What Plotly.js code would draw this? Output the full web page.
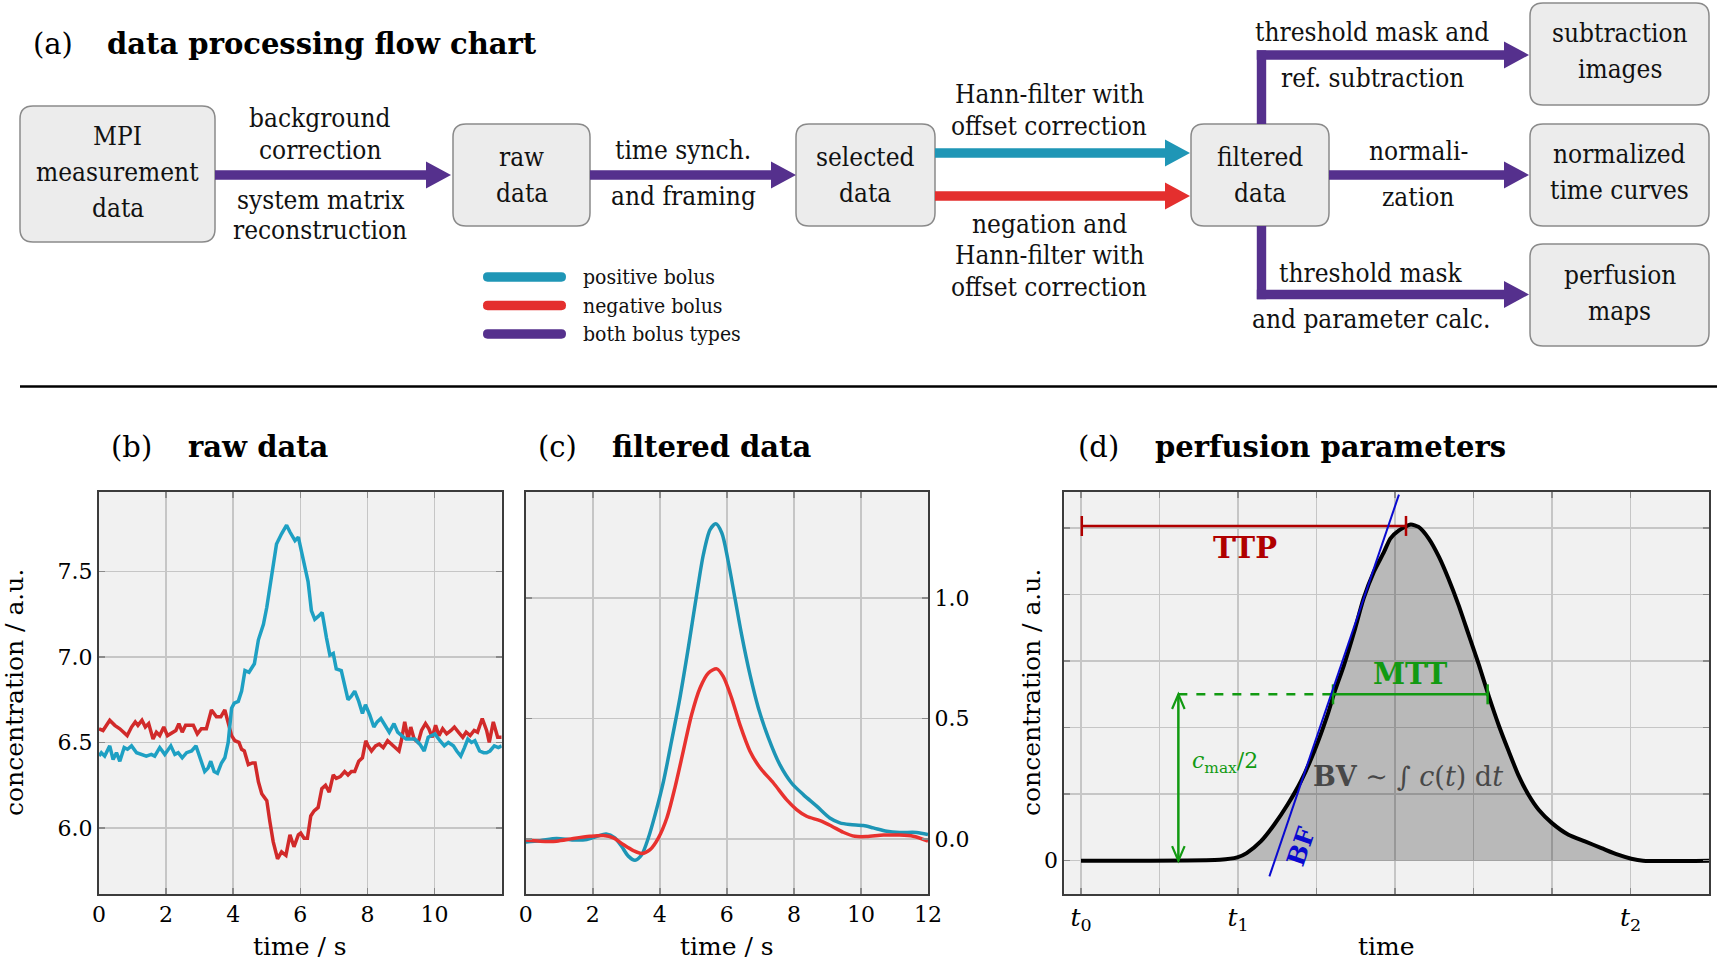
<!DOCTYPE html>
<html><head><meta charset="utf-8">
<script src="https://cdn.plot.ly/plotly-3.0.1.min.js"></script>
<style>html,body{margin:0;padding:0;background:#fff}#chart{width:1717px;height:962px}</style>
</head><body><div id="chart"></div>
<script>
const W = 1717, H = 962;

// ---------- (b) raw data ----------
const rawPosT = [0,0.07,0.17,0.32,0.42,0.52,0.62,0.75,0.85,0.97,1.12,1.26,1.41,1.56,1.66,1.81,1.96,2.14,2.26,2.36,2.48,2.61,2.76,2.89,3.00,3.15,3.25,3.33,3.43,3.53,3.65,3.75,3.85,3.95,4.03,4.15,4.25,4.35,4.47,4.63,4.75,4.90,5.00,5.15,5.29,5.44,5.59,5.69,5.84,5.94,6.13,6.23,6.33,6.43,6.55,6.65,6.78,6.88,6.98,7.07,7.22,7.32,7.42,7.52,7.62,7.74,7.85,7.94,8.07,8.19,8.29,8.40,8.54,8.65,8.79,8.90,9.02,9.15,9.29,9.41,9.56,9.69,9.81,10.01,10.16,10.29,10.41,10.56,10.66,10.78,10.89,10.99,11.10,11.20,11.34,11.46,11.55,11.65,11.78,11.90,12.0];
const rawPosC = [6.42,6.44,6.42,6.48,6.40,6.44,6.39,6.47,6.46,6.48,6.44,6.43,6.42,6.43,6.42,6.47,6.43,6.48,6.43,6.44,6.41,6.44,6.45,6.48,6.41,6.33,6.35,6.39,6.33,6.32,6.38,6.41,6.50,6.70,6.73,6.74,6.80,6.92,6.91,6.96,7.10,7.19,7.29,7.50,7.66,7.72,7.77,7.73,7.68,7.70,7.54,7.44,7.27,7.22,7.24,7.26,7.11,7.01,7.02,6.93,6.92,6.84,6.75,6.77,6.80,6.74,6.67,6.72,6.66,6.59,6.62,6.64,6.60,6.56,6.61,6.56,6.54,6.52,6.52,6.52,6.49,6.45,6.53,6.55,6.51,6.48,6.50,6.48,6.45,6.42,6.47,6.52,6.50,6.51,6.45,6.44,6.44,6.45,6.48,6.47,6.48];
const rawNegT = [0,0.12,0.32,0.47,0.62,0.72,0.84,0.97,1.08,1.16,1.28,1.38,1.48,1.61,1.71,1.81,1.93,2.04,2.18,2.29,2.38,2.48,2.58,2.71,2.81,2.93,3.05,3.20,3.35,3.50,3.63,3.75,3.85,3.95,4.05,4.17,4.25,4.33,4.45,4.57,4.65,4.75,4.85,5.00,5.09,5.19,5.32,5.44,5.57,5.69,5.81,5.94,6.01,6.11,6.21,6.31,6.41,6.53,6.64,6.75,6.86,6.98,7.07,7.19,7.32,7.42,7.52,7.62,7.74,7.85,7.95,8.02,8.12,8.24,8.35,8.47,8.60,8.72,8.82,8.94,9.01,9.11,9.21,9.29,9.39,9.51,9.61,9.73,9.83,9.93,10.03,10.13,10.24,10.36,10.49,10.59,10.71,10.84,10.94,11.06,11.18,11.28,11.42,11.55,11.63,11.75,11.88,12.0];
const rawNegC = [6.58,6.57,6.63,6.60,6.58,6.56,6.54,6.59,6.62,6.60,6.63,6.59,6.61,6.52,6.56,6.54,6.59,6.54,6.56,6.57,6.61,6.56,6.60,6.60,6.60,6.55,6.58,6.58,6.69,6.65,6.65,6.69,6.62,6.54,6.51,6.50,6.46,6.45,6.37,6.38,6.38,6.27,6.20,6.16,6.04,5.92,5.82,5.86,5.84,5.96,5.89,5.96,5.97,5.94,5.94,6.07,6.10,6.12,6.23,6.25,6.21,6.31,6.29,6.30,6.33,6.31,6.33,6.33,6.39,6.41,6.51,6.48,6.45,6.48,6.49,6.47,6.51,6.49,6.47,6.45,6.51,6.62,6.52,6.59,6.52,6.50,6.57,6.61,6.58,6.53,6.60,6.54,6.58,6.55,6.57,6.59,6.56,6.53,6.56,6.54,6.57,6.56,6.64,6.57,6.50,6.62,6.53,6.53];
const rawXTicks = [0,2,4,6,8,10];
const rawYTicks = [6.0,6.5,7.0,7.5];
const rawYText = ['6.0','6.5','7.0','7.5'];

// ---------- (c) filtered data ----------
const filtPosT = [0,0.43,0.92,1.42,1.82,2.12,2.40,2.66,2.86,3.06,3.26,3.46,3.66,3.86,4.11,4.35,4.60,4.85,5.10,5.30,5.50,5.67,5.85,6.04,6.24,6.44,6.69,6.94,7.24,7.58,7.93,8.28,8.68,9.07,9.37,9.67,10.07,10.37,10.77,11.16,11.66,12.0];
const filtPosC = [-0.011,-0.006,0.003,-0.003,-0.001,0.012,0.022,0.006,-0.029,-0.070,-0.087,-0.064,0.006,0.102,0.240,0.406,0.586,0.793,1.014,1.18,1.283,1.307,1.269,1.152,1.0,0.848,0.682,0.544,0.420,0.309,0.233,0.185,0.137,0.088,0.068,0.061,0.057,0.047,0.033,0.028,0.028,0.019];
const filtNegT = [0,0.43,0.92,1.42,1.92,2.32,2.61,2.91,3.21,3.46,3.71,3.96,4.21,4.45,4.70,4.95,5.20,5.45,5.70,5.89,6.14,6.39,6.69,6.99,7.39,7.78,8.08,8.38,8.78,9.13,9.47,9.82,10.17,10.67,11.16,11.56,12.0];
const filtNegC = [-0.003,-0.008,-0.008,0.003,0.012,0.015,0.006,-0.022,-0.047,-0.059,-0.043,0.006,0.088,0.213,0.365,0.517,0.627,0.689,0.706,0.675,0.586,0.475,0.365,0.296,0.233,0.164,0.123,0.095,0.077,0.054,0.029,0.012,0.011,0.017,0.017,0.012,-0.008];
const filtXTicks = [0,2,4,6,8,10,12];
const filtYTicks = [0,0.5,1.0];
const filtYText = ['0.0','0.5','1.0'];

// ---------- (d) perfusion parameters ----------
const perfT = [0,1.77,1.99,2.11,2.29,2.46,2.63,2.80,2.97,3.14,3.22,3.35,3.48,3.60,3.73,3.86,3.94,4.05,4.20,4.30,4.43,4.56,4.68,4.81,4.94,5.07,5.19,5.32,5.45,5.57,5.70,5.83,6.00,6.21,6.42,6.63,6.84,7.01,7.16,8.0];
const perfC = [0,0.015,0.05,0.115,0.29,0.54,0.84,1.19,1.64,2.19,2.5,2.94,3.44,3.94,4.34,4.64,4.84,4.965,5.05,5.015,4.84,4.565,4.24,3.84,3.39,2.94,2.49,2.04,1.64,1.29,0.99,0.765,0.565,0.39,0.29,0.19,0.09,0.03,0,0];
const t0 = 0.01, tPeak = 4.14, cMax = 5.03;          // TTP bar
const mttStart = 3.21, mttEnd = 5.18, cHalf = 2.5;    // MTT bar at c_max/2
const cHalfArrowT = 1.24;                              // c_max/2 arrow position
const bfT = [2.40, 4.05], bfC = [-0.235, 5.5];          // BF tangent
const perfXTicks = [0,2,7];
const perfXText = ['<i>t</i><sub>0</sub>','<i>t</i><sub>1</sub>','<i>t</i><sub>2</sub>'];
const perfXGrid = [1,3,4,5,6];
const perfYTicks = [0];
const perfYText = ['0'];
const perfYGrid = [1,2,3,4,5];

// ---------- (a) flow chart labels ----------
const boxLabels = [['MPI','measurement','data'],['raw','data'],['selected','data'],['filtered','data'],['subtraction','images'],['normalized','time curves'],['perfusion','maps']];
const edgeLabels = ['background','correction','system matrix','reconstruction','time synch.','and framing','Hann-filter with','offset correction','negation and','Hann-filter with','offset correction','threshold mask and','ref. subtraction','normali-','zation','threshold mask','and parameter calc.'];
const legendLabels = ['positive bolus','negative bolus','both bolus types'];

// ---------- styling / geometry ----------
const TEAL = '#1f96b6', RED = '#e42f2e', PURPLE = '#55308d';
const SERIF = 'DejaVu Serif, serif';
const FLOW = 'DejaVu Serif Condensed, DejaVu Serif, serif';
const px = v => v / W, py = v => 1 - v / H;

const boxGeom = [[20,106,215,242],[453,124,590,226],[796,124,935,226],[1191,124,1329,226],[1530,3,1709,105],[1530,124,1709,226],[1530,244,1709,346]];
const boxLineY = [[136,172,208],[157,193],[157,193],[157,193],[33,69],[154,190],[275,311]];
const edgePos = [[320,118],[320,150],[320,200],[320,230],[683,150],[683,196],[1049,94],[1049,126],[1049,224],[1049,255],[1049,287],[1372,32],[1372,78],[1418,151],[1418,197],[1371,273],[1371,319]];

function f(v){return v.toFixed(5);}
function rr(x0,y0,x1,y1,r){
  const X=v=>f(px(v)), Y=v=>f(py(v));
  return `M${X(x0+r)},${Y(y0)} L${X(x1-r)},${Y(y0)} Q${X(x1)},${Y(y0)} ${X(x1)},${Y(y0+r)} L${X(x1)},${Y(y1-r)} Q${X(x1)},${Y(y1)} ${X(x1-r)},${Y(y1)} L${X(x0+r)},${Y(y1)} Q${X(x0)},${Y(y1)} ${X(x0)},${Y(y1-r)} L${X(x0)},${Y(y0+r)} Q${X(x0)},${Y(y0)} ${X(x0+r)},${Y(y0)} Z`;
}
function poly(pts){return 'M' + pts.map(p=>f(px(p[0]))+','+f(py(p[1]))).join(' L') + ' Z';}
function arrow(x0,x1,y,h=4.7,L=25,HH=13.5){
  return poly([[x0,y-h],[x1-L,y-h],[x1-L,y-HH],[x1,y],[x1-L,y+HH],[x1-L,y+h],[x0,y+h]]);
}
const shapes = [];
const annotations = [];
const pshape = (path,color)=>shapes.push({type:'path',xref:'paper',yref:'paper',path:path,fillcolor:color,line:{width:0}});

// boxes
boxGeom.forEach(b=>shapes.push({type:'path',xref:'paper',yref:'paper',path:rr(b[0],b[1],b[2],b[3],13),fillcolor:'#ececec',line:{color:'#8a8a8a',width:1.5}}));
// arrows
pshape(arrow(215,451,175),PURPLE);
pshape(arrow(590,796,175),PURPLE);
pshape(arrow(935,1190,153),TEAL);
pshape(arrow(935,1190,196),RED);
pshape(arrow(1329,1529,175),PURPLE);
pshape(poly([[1256.8,50.3],[1266.2,50.3],[1266.2,124],[1256.8,124]]),PURPLE);
pshape(arrow(1256.8,1529,55),PURPLE);
pshape(poly([[1256.8,226],[1266.2,226],[1266.2,299.2],[1256.8,299.2]]),PURPLE);
pshape(arrow(1256.8,1529,294.5),PURPLE);
// legend bars
[TEAL,RED,PURPLE].forEach((c,i)=>{
  const y=[277,305.5,334][i];
  pshape(rr(483,y-4.7,566,y+4.7,4.6),c);
  annotations.push({xref:'paper',yref:'paper',x:px(581),y:py(y),xanchor:'left',yanchor:'middle',showarrow:false,text:legendLabels[i],font:{family:FLOW,size:21,color:'#111'}});
});
// separator
shapes.push({type:'line',xref:'paper',yref:'paper',x0:px(20),x1:1,y0:py(386.5),y1:py(386.5),line:{color:'#000',width:2.5}});

boxLabels.forEach((lines,i)=>{
  const b=boxGeom[i], cx=(b[0]+b[2])/2;
  lines.forEach((t,j)=>annotations.push({xref:'paper',yref:'paper',x:px(cx),y:py(boxLineY[i][j]),xanchor:'center',yanchor:'middle',showarrow:false,text:t,font:{family:FLOW,size:26,color:'#111'}}));
});
edgeLabels.forEach((t,i)=>annotations.push({xref:'paper',yref:'paper',x:px(edgePos[i][0]),y:py(edgePos[i][1]),xanchor:'center',yanchor:'middle',showarrow:false,text:t,font:{family:FLOW,size:26,color:'#111'}}));

// titles
const titles = [['(a)','data processing flow chart',31,105,44],['(b)','raw data',109,186,447],['(c)','filtered data',536,610,447],['(d)','perfusion parameters',1076,1153,447]];
titles.forEach(t=>{
  annotations.push({xref:'paper',yref:'paper',x:px(t[2]),y:py(t[4]),xanchor:'left',yanchor:'middle',showarrow:false,text:t[0],font:{family:SERIF,size:29,color:'#000'}});
  annotations.push({xref:'paper',yref:'paper',x:px(t[3]),y:py(t[4]),xanchor:'left',yanchor:'middle',showarrow:false,text:'<b>'+t[1]+'</b>',font:{family:SERIF,size:29,color:'#000'}});
});
// axis titles
[['time / s',300],['time / s',727],['time',1386]].forEach(a=>annotations.push({xref:'paper',yref:'paper',x:px(a[1]),y:py(946),xanchor:'center',yanchor:'middle',showarrow:false,text:a[0],font:{family:SERIF,size:25,color:'#000'}}));
[14,1031].forEach(x=>annotations.push({xref:'paper',yref:'paper',x:px(x),y:py(693),xanchor:'center',yanchor:'middle',textangle:-90,showarrow:false,text:'concentration / a.u.',font:{family:SERIF,size:25,color:'#000'}}));

// panel (d) markup
const GREEN = '#129a12', DRED = '#b00000', BLUE = '#0a0ad0';
const dl = (x0,y0,x1,y1,color,dash)=>shapes.push({type:'line',xref:'x3',yref:'y3',x0:x0,x1:x1,y0:y0,y1:y1,line:{color:color,width:2.5,dash:dash||'solid'}});
dl(t0,cMax,tPeak,cMax,DRED);
[t0,tPeak].forEach(x=>dl(x,cMax-0.15,x,cMax+0.15,DRED));
dl(mttStart,cHalf,mttEnd,cHalf,GREEN);
[mttStart,mttEnd].forEach(x=>dl(x,cHalf-0.15,x,cHalf+0.15,GREEN));
dl(cHalfArrowT,cHalf,mttStart,cHalf,GREEN,'dash');
shapes.push({type:'line',xref:'x3',yref:'y3',x0:bfT[0],x1:bfT[1],y0:bfC[0],y1:bfC[1],line:{color:BLUE,width:2}});
// double-headed c_max/2 arrow
dl(cHalfArrowT,0,cHalfArrowT,cHalf,GREEN);
const ahx = 0.08, ahy = 0.22;
shapes.push({type:'path',xref:'x3',yref:'y3',path:`M${cHalfArrowT-ahx},${ahy} L${cHalfArrowT},0 L${cHalfArrowT+ahx},${ahy}`,line:{color:GREEN,width:2.2}});
shapes.push({type:'path',xref:'x3',yref:'y3',path:`M${cHalfArrowT-ahx},${cHalf-ahy} L${cHalfArrowT},${cHalf} L${cHalfArrowT+ahx},${cHalf-ahy}`,line:{color:GREEN,width:2.2}});
annotations.push({xref:'x3',yref:'y3',x:2.09,y:4.7,showarrow:false,text:'<b>TTP</b>',font:{family:SERIF,size:29,color:DRED}});
annotations.push({xref:'x3',yref:'y3',x:4.2,y:2.8,showarrow:false,text:'<b>MTT</b>',font:{family:SERIF,size:29,color:GREEN}});
annotations.push({xref:'x3',yref:'y3',x:1.39,y:1.47,xanchor:'left',showarrow:false,text:'<i>c</i><sub>max</sub>/2',font:{family:SERIF,size:22,color:GREEN}});
annotations.push({xref:'x3',yref:'y3',x:4.17,y:1.27,showarrow:false,text:'<b>BV</b> ∼ ∫ <i>c</i>(<i>t</i>) d<i>t</i>',font:{family:SERIF,size:27,color:'#484848'}});
annotations.push({xref:'x3',yref:'y3',x:2.80,y:0.22,showarrow:false,textangle:-71,text:'<b>BF</b>',font:{family:SERIF,size:25,color:BLUE}});

const traces = [
  {x:rawNegT,y:rawNegC,xaxis:'x',yaxis:'y',mode:'lines',line:{color:'#d12a2a',width:3.5}},
  {x:rawPosT,y:rawPosC,xaxis:'x',yaxis:'y',mode:'lines',line:{color:'#1ea0c3',width:3.5}},
  {x:filtPosT,y:filtPosC,xaxis:'x2',yaxis:'y2',mode:'lines',line:{color:'#1d95b5',width:3.5,shape:'spline',smoothing:0.8}},
  {x:filtNegT,y:filtNegC,xaxis:'x2',yaxis:'y2',mode:'lines',line:{color:'#e8322f',width:3.5,shape:'spline',smoothing:0.8}},
  {x:perfT,y:perfC,xaxis:'x3',yaxis:'y3',mode:'lines',fill:'tozeroy',fillcolor:'rgba(0,0,0,0.23)',line:{color:'#000',width:4,shape:'spline',smoothing:0.6}}
];

const yDom = [py(894), py(492)];
const axBase = {showgrid:true,gridcolor:'#c6c6c6',gridwidth:1.5,zeroline:false,showline:true,linecolor:'#3c3c3c',linewidth:2,mirror:'ticks',ticks:'inside',ticklen:6,tickwidth:1.5,tickcolor:'#8a8a8a',tickfont:{family:SERIF,size:22,color:'#000'},tickmode:'array'};
const minorGrid = vals => ({tickmode:'array',tickvals:vals,showgrid:true,gridcolor:'#c6c6c6',gridwidth:1.5,ticks:'inside',ticklen:6,tickwidth:1.5,tickcolor:'#8a8a8a'});
const layout = {
  width:W,height:H,margin:{l:0,r:0,t:0,b:0},paper_bgcolor:'#fff',plot_bgcolor:'#f1f1f1',showlegend:false,
  xaxis:Object.assign({},axBase,{domain:[px(99),px(501.7)],range:[0,12],anchor:'y',tickvals:rawXTicks,ticktext:rawXTicks.map(String)}),
  yaxis:Object.assign({},axBase,{domain:yDom,range:[5.614,7.964],anchor:'x',tickvals:rawYTicks,ticktext:rawYText}),
  xaxis2:Object.assign({},axBase,{domain:[px(525.7),px(928)],range:[0,12],anchor:'y2',tickvals:filtXTicks,ticktext:filtXTicks.map(String)}),
  yaxis2:Object.assign({},axBase,{domain:yDom,range:[-0.227,1.439],anchor:'x2',side:'right',tickvals:filtYTicks,ticktext:filtYText}),
  xaxis3:Object.assign({},axBase,{domain:[px(1064.3),px(1709)],range:[-0.213,8.0],anchor:'y3',tickvals:perfXTicks,ticktext:perfXText,tickfont:{family:SERIF,size:25,color:'#000'},minor:minorGrid(perfXGrid)}),
  yaxis3:Object.assign({},axBase,{domain:yDom,range:[-0.5,5.54],anchor:'x3',tickvals:perfYTicks,ticktext:perfYText,minor:minorGrid(perfYGrid)}),
  shapes:shapes,annotations:annotations
};
Plotly.newPlot('chart',traces,layout,{displayModeBar:false,staticPlot:true});
</script></body></html>
